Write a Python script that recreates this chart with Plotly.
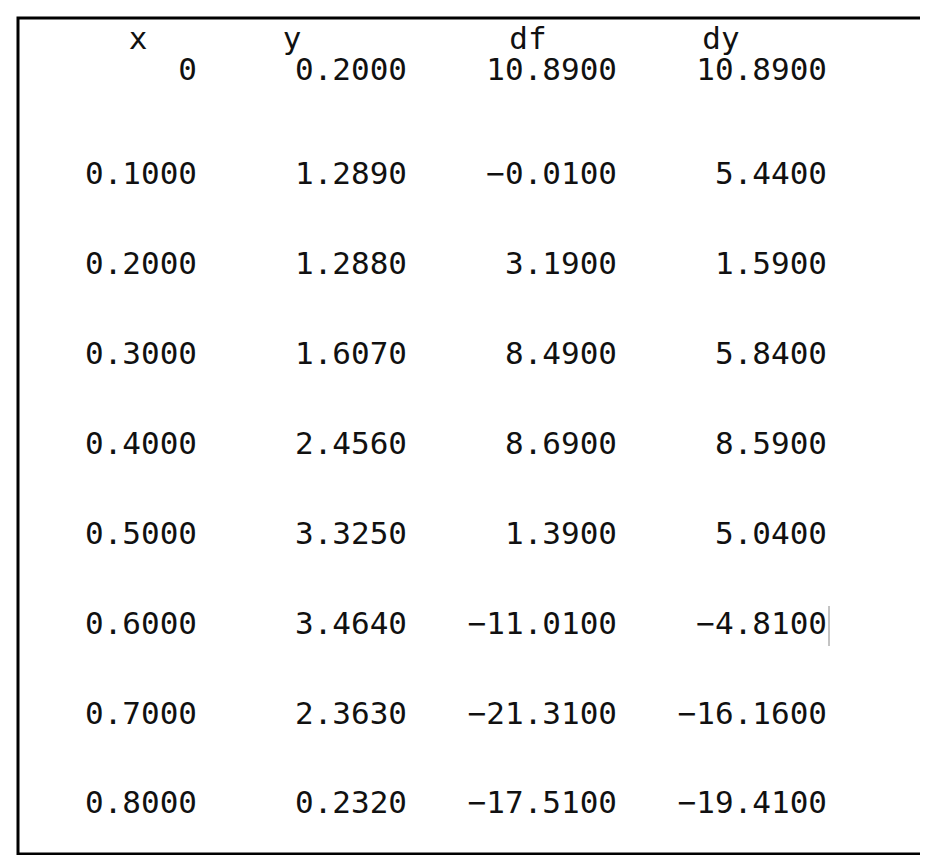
import plotly.graph_objects as go

headers = ["x", "y", "df", "dy"]
x_vals = ["0", "0.1000", "0.2000", "0.3000", "0.4000", "0.5000", "0.6000", "0.7000", "0.8000"]
y_vals = ["0.2000", "1.2890", "1.2880", "1.6070", "2.4560", "3.3250", "3.4640", "2.3630", "0.2320"]
df_vals = ["10.8900", "-0.0100", "3.1900", "8.4900", "8.6900", "1.3900", "-11.0100", "-21.3100", "-17.5100"]
dy_vals = ["10.8900", "5.4400", "1.5900", "5.8400", "8.5900", "5.0400", "-4.8100", "-16.1600", "-19.4100"]

# layout positions (pixel-like coords)
col_right = [189, 399, 609, 819]
header_x = [130, 284, 520, 713]
row_y = [64, 168, 258, 348, 438, 528, 618, 708, 797]
header_y = 33

font = dict(family="DejaVu Sans Mono", size=31, color="#111111")

fig = go.Figure()
for cx, hx, h, col in zip(col_right, header_x, headers, [x_vals, y_vals, df_vals, dy_vals]):
    fig.add_trace(go.Scatter(
        x=[cx] * len(col), y=row_y, mode="text",
        text=[v.replace("-", "\u2212") for v in col],
        textposition="middle left", textfont=font, hoverinfo="skip"))
    fig.add_trace(go.Scatter(
        x=[hx], y=[header_y], mode="text", text=[h],
        textposition="middle center", textfont=font, hoverinfo="skip"))

fig.add_shape(type="rect", x0=10, y0=10, x1=922, y1=846,
              line=dict(color="black", width=3))
fig.add_shape(type="line", x0=821, y0=598, x1=821, y1=638,
              line=dict(color="#888888", width=1))

fig.update_layout(
    autosize=True, showlegend=False,
    margin=dict(l=0, r=0, t=0, b=0),
    plot_bgcolor="white", paper_bgcolor="white",
    xaxis=dict(range=[0, 928], visible=False, fixedrange=True),
    yaxis=dict(range=[855, 0], visible=False, fixedrange=True),
)
fig.write_html("out.html", default_width="100vw", default_height="100vh",
               config={"responsive": True})
